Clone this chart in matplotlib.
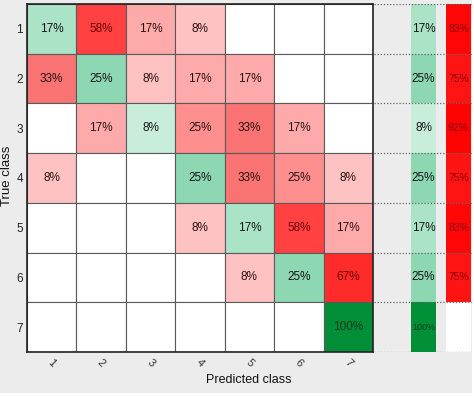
import numpy as np
import matplotlib
matplotlib.use("Agg")
import matplotlib.pyplot as plt
from matplotlib.colors import LinearSegmentedColormap
from matplotlib.patches import Rectangle

# ------------------------------
# Data: counts per true class (12 samples each)
# ------------------------------
class_labels = ["1", "2", "3", "4", "5", "6", "7"]
counts = np.array([
    [2, 7, 2, 1, 0, 0, 0],
    [4, 3, 1, 2, 2, 0, 0],
    [0, 2, 1, 3, 4, 2, 0],
    [1, 0, 0, 3, 4, 3, 1],
    [0, 0, 0, 1, 2, 7, 2],
    [0, 0, 0, 0, 1, 3, 8],
    [0, 0, 0, 0, 0, 0, 12],
])
row_totals = counts.sum(axis=1)
pct = counts / row_totals[:, None]
correct_pct = np.diag(pct)
wrong_pct = 1 - correct_pct

# ------------------------------
# Colour maps (white -> mint -> dark green, white -> pink -> red)
# ------------------------------
green_cmap = LinearSegmentedColormap.from_list(
    "grn", [(0, "#ffffff"), (0.08, "#c9eedc"), (0.17, "#a9e2c6"),
            (0.25, "#8dd7b3"), (1.0, "#008f36")])
red_cmap = LinearSegmentedColormap.from_list(
    "red", [(0, "#ffffff"), (0.08, "#ffc3c3"), (0.17, "#ffa8a8"),
            (0.25, "#ff8f8f"), (0.33, "#f97474"), (0.58, "#ff4242"),
            (0.67, "#ff2a2a"), (0.8, "#ff0808"), (1.0, "#ff0000")])

plt.rcParams["font.family"] = ["Liberation Sans", "DejaVu Sans"]

fig = plt.figure(figsize=(4.74, 3.96), dpi=100, facecolor="white")
fig.patches.append(Rectangle((0, 3 / 396), 472 / 474, 1, transform=fig.transFigure,
                             facecolor="#ececec", edgecolor="none", zorder=-10))

n = len(class_labels)

# ------------------------------
# Main confusion matrix
# ------------------------------
ax = fig.add_axes([27 / 474, 1 - 352 / 396, 346 / 474, 348 / 396])
for i in range(n):
    for j in range(n):
        p = pct[i, j]
        if i == j:
            col = green_cmap(p) if p > 0 else "white"
        else:
            col = red_cmap(p) if p > 0 else "white"
        ax.add_patch(Rectangle((j - 0.5, i - 0.5), 1, 1, facecolor=col,
                               edgecolor="#5a5a5a", linewidth=0.8))
        if counts[i, j] > 0:
            if i == j:
                tc = "#0b3d1f" if p > 0.9 else "#151515"
            else:
                tc = "#6e0000" if p > 0.5 else "#2a1010"
            ax.text(j, i, f"{p * 100:.0f}%", ha="center", va="center",
                    fontsize=8.5, color=tc)

ax.set_xlim(-0.5, n - 0.5)
ax.set_ylim(n - 0.5, -0.5)
ax.set_xticks(range(n))
ax.set_yticks(range(n))
ax.set_xticklabels(class_labels, rotation=-45, fontsize=8, color="#333333")
ax.set_yticklabels(class_labels, fontsize=8.5, color="#222222")
ax.tick_params(length=0, pad=3)
ax.tick_params(axis="x", pad=4)
for s in ax.spines.values():
    s.set_color("#222222")
    s.set_linewidth(1.2)

# ------------------------------
# Row summary (correct / incorrect)
# ------------------------------
ax2 = fig.add_axes([374 / 474, 1 - 352 / 396, 98 / 474, 348 / 396])
ax2.set_facecolor("none")
rows = np.arange(n)
green_cols = [green_cmap(p) for p in correct_pct]
red_cols = [red_cmap(p) if p > 0 else "white" for p in wrong_pct]
ax2.barh(rows, 1, left=0, height=1, color=green_cols, linewidth=0)
ax2.barh(rows, 1, left=1.4, height=1, color=red_cols, linewidth=0)
for i in range(n):
    c = correct_pct[i]
    ax2.text(0.5, i, f"{c * 100:.0f}%", ha="center", va="center",
             fontsize=6.5 if c >= 1 else 8.5,
             color="#0b3d1f" if c >= 1 else "#151515")
    w = wrong_pct[i]
    if w > 0:
        ax2.text(1.9, i, f"{w * 100:.0f}%", ha="center", va="center",
                 fontsize=7.5, color="#8a0000")
for y in np.arange(-0.5, n, 1):
    ax2.axhline(y, color="#666666", linestyle=(0, (1, 1.5)), linewidth=0.9)
ax2.set_xlim(-1.48, 2.44)
ax2.set_ylim(n - 0.5, -0.5)
ax2.axis("off")

fig.text(249 / 474, 1 - 380 / 396, "Predicted class", ha="center", va="center",
         fontsize=9, color="#111111")
fig.text(7 / 474, 1 - 176 / 396, "True class", ha="center", va="center",
         rotation=90, fontsize=9.5, color="#111111")

fig.savefig("out.png", dpi=100, facecolor=fig.get_facecolor())
